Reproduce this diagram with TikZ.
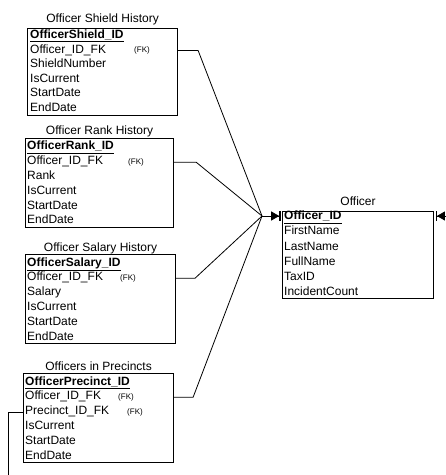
\documentclass[tikz,border=0pt]{standalone}
\usepackage{fontspec}
\setmainfont{Liberation Sans}
\usetikzlibrary{positioning,arrows.meta,calc}

\begin{document}
\begin{tikzpicture}[x=1bp, y=-1bp, font=\fontsize{12bp}{14bp}\selectfont,
        tbl/.style={draw, line width=1.1bp, anchor=north west, inner sep=0, minimum width=#1},
        row/.style={anchor=base west, inner sep=0},
        fk/.style={anchor=base west, inner sep=0, font=\fontsize{8bp}{9bp}\selectfont},
        ttl/.style={anchor=base, inner sep=0},
        link/.style={line width=0.8bp},
        onearrow/.style={link, -{Triangle[length=8bp,width=9bp] Bar[width=10bp,line width=1.3bp]}, shorten >=1.5bp}]
        \useasboundingbox (0,0) rectangle (446,475);
        % tables
        \node[tbl=150bp, minimum height=87bp] (shield) at (27,28) {};
        \node[ttl] at ($(shield.north)+(0,-5)$) {Officer Shield History};
        \foreach \i/\name in {0/{\textbf{\underline{OfficerShield\_ID}}},1/Officer\_ID\_FK,2/ShieldNumber,3/IsCurrent,4/StartDate,5/EndDate}{\node[row] (shield-\i) at (30,38.5+14.6*\i) {\name};}
        \node[fk] at (134,53) {(FK)};
        \node[tbl=148bp, minimum height=89bp] (rank) at (25,138) {};
        \node[ttl] at ($(rank.north)+(0,-3)$) {Officer Rank History};
        \foreach \i/\name in {0/{\textbf{\underline{OfficerRank\_ID}}},1/Officer\_ID\_FK,2/Rank,3/IsCurrent,4/StartDate,5/EndDate}{\node[row] (rank-\i) at (27,150+14.8*\i) {\name};}
        \node[fk] at (128,164.5) {(FK)};
        \node[tbl=150bp, minimum height=89bp] (salary) at (25,254) {};
        \node[ttl] at ($(salary.north)+(0,-3)$) {Officer Salary History};
        \foreach \i/\name in {0/{\textbf{\underline{OfficerSalary\_ID}}},1/Officer\_ID\_FK,2/Salary,3/IsCurrent,4/StartDate,5/EndDate}{\node[row] (salary-\i) at (27,266+14.8*\i) {\name};}
        \node[fk] at (120,280.5) {(FK)};
        \node[tbl=150bp, minimum height=89bp] (precinct) at (23,373) {};
        \node[ttl] at ($(precinct.north)+(0,-3)$) {Officers in Precincts};
        \foreach \i/\name in {0/{\textbf{\underline{OfficerPrecinct\_ID}}},1/Officer\_ID\_FK,2/Precinct\_ID\_FK,3/IsCurrent,4/StartDate,5/EndDate}{\node[row] (precinct-\i) at (25,385+14.9*\i) {\name};}
        \node[fk] at (118,399.5) {(FK)};
        \node[fk] at (127,414.5) {(FK)};
        \node[tbl=151bp, minimum height=87bp] (officer) at (282,211) {};
        \node[ttl] at ($(officer.north)+(0,-5)$) {Officer};
        \foreach \i/\name in {0/{\textbf{\underline{Officer\_ID}}},1/FirstName,2/LastName,3/FullName,4/TaxID,5/IncidentCount}{\node[row] (officer-\i) at (284,220+15*\i) {\name};}
        % links
        \coordinate (hub) at (262,216);
        \coordinate (rightend) at (446,216);
        \coordinate (offpage) at (8,475);
        \draw[link] (shield-1.mid west -| shield.east) -- ++(20,0) -- (hub);
        \draw[link] (rank-1.mid west -| rank.east) -- ++(22,0) -- (hub);
        \draw[link] (salary-1.mid west -| salary.east) -- ++(19,0) -- (hub);
        \draw[link] (precinct-1.mid west -| precinct.east) -- ++(19,0) -- (hub);
        \draw[onearrow] (hub) -- (hub -| officer.west);
        \draw[onearrow] (rightend) -- (rightend -| officer.east);
        \draw[link] (precinct-2.mid west -| precinct.west) -| (offpage);
\end{tikzpicture}
\end{document}
